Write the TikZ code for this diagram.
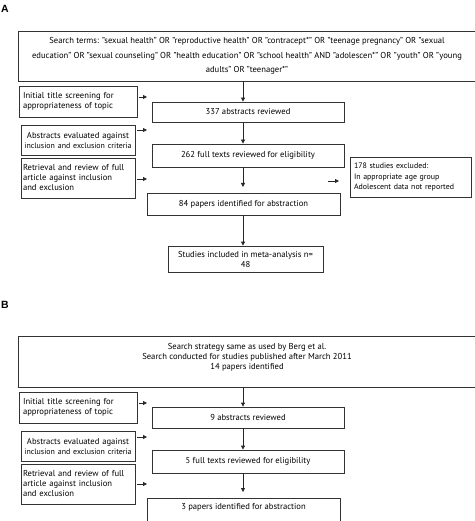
\documentclass[tikz,border=0pt]{standalone}
\usepackage{fontspec}
\setmainfont{PT Sans}
\newfontfamily\labfont{Liberation Sans}
\usetikzlibrary{arrows.meta}
\newcommand\bx[7]{\node[#6, minimum width={(#4-#2)*1pt}, minimum height={(#5-#3)*1pt}] (#1) at ({(#2+#4)/2},{(#3+#5)/2}) {#7};}
\newcommand\sm{\fontsize{7.9}{10}\selectfont}
\begin{document}
\begin{tikzpicture}[x=1pt,y=-1pt,
  box/.style={draw=black!80, line width=0.8pt, inner sep=0pt, align=center, text=black, font=\fontsize{8.6}{10}\selectfont},
  bigbox/.style={box, font=\fontsize{8.6}{14.5}\selectfont},
  lbox/.style={box, align=left, text width=110pt},
  cbox/.style={box, align=center, text width=112pt},
  exbox/.style={box, align=left, text width=113pt, font=\fontsize{7.9}{10.5}\selectfont},
  arr/.style={-{Triangle[length=4pt,width=4pt]}, line width=0.8pt, black!85},
  panlab/.style={font=\labfont\bfseries\fontsize{10.5}{12}\selectfont, inner sep=0pt}]
\useasboundingbox (0,0) rectangle (474,521);
\coordinate (ax) at (243,0);
% Panel A
\node[panlab] (labA) at (5,8.5) {A};
\bx{topA}{18}{31}{476}{81}{bigbox}{Search terms: "sexual health" OR "reproductive health" OR "contracept*" OR "teenage pregnancy" OR "sexual\\ education" OR "sexual counseling" OR "health education" OR "school health" AND "adolescen*" OR "youth" OR "young\\ adults" OR "teenager*"}
\bx{l1A}{19}{86}{137}{117}{lbox}{Initial title screening for\\appropriateness of topic}
\bx{b337}{152}{102}{344}{122}{box}{337 abstracts reviewed}
\bx{l2A}{21}{125}{135}{155}{cbox}{Abstracts evaluated against\\{\sm inclusion and exclusion criteria}}
\bx{b262}{152}{144}{344}{167}{box}{262 full texts reviewed for eligibility}
\bx{l3A}{21}{158}{135}{198}{lbox}{Retrieval and review of full\\article against inclusion\\and exclusion}
\bx{exA}{350}{157}{471}{197}{exbox}{178 studies excluded:\\In appropriate age group\\Adolescent data not reported}
\bx{b84}{147}{193}{340}{215}{box}{84 papers identified for abstraction}
\bx{stud}{168}{246}{323}{272}{box}{Studies included in meta-analysis n=\\48}
\coordinate (e1A) at (147,97);
\coordinate (e2A) at (147,130);
\coordinate (e3A) at (147,179);
\coordinate (eexS) at (328,181);
\coordinate (eexE) at (339,181);
\coordinate (e84) at (243,187);
\draw[arr] (topA.south -| ax) -- (b337.north -| ax);
\draw[arr] (b337.south -| ax) -- (b262.north -| ax);
\draw[arr] (b262.south -| ax) -- (e84);
\draw[arr] (b84.south -| ax) -- (stud.north -| ax);
\draw[arr, shorten <=1.5pt] (l1A.east |- e1A) -- (e1A);
\draw[arr, shorten <=1.5pt] (l2A.east |- e2A) -- (e2A);
\draw[arr, shorten <=1.5pt] (l3A.east |- e3A) -- (e3A);
\draw[arr] (eexS) -- (eexE);
% Panel B
\node[panlab] (labB) at (5,305) {B};
\bx{topB}{18}{336}{476}{387}{box}{Search strategy same as used by Berg et al.\\Search conducted for studies published after March 2011\\14 papers identified\\[0pt]}
\bx{l1B}{19}{392}{137}{423}{lbox}{Initial title screening for\\appropriateness of topic}
\bx{b9}{152}{407}{344}{428}{box}{9 abstracts reviewed}
\bx{l2B}{21}{431}{135}{461}{cbox}{Abstracts evaluated against\\{\sm inclusion and exclusion criteria}}
\bx{b5}{152}{450}{344}{473}{box}{5 full texts reviewed for eligibility}
\bx{l3B}{21}{464}{135}{504}{lbox}{Retrieval and review of full\\article against inclusion\\and exclusion}
\bx{b3}{147}{498}{340}{540}{box, text depth=26pt}{3 papers identified for abstraction}
\coordinate (e1B) at (147,403);
\coordinate (e2B) at (147,437);
\coordinate (e3B) at (147,484);
\coordinate (e3p) at (243,492);
\draw[arr] (topB.south -| ax) -- (b9.north -| ax);
\draw[arr] (b9.south -| ax) -- (b5.north -| ax);
\draw[arr] (b5.south -| ax) -- (e3p);
\draw[arr, shorten <=1.5pt] (l1B.east |- e1B) -- (e1B);
\draw[arr, shorten <=1.5pt] (l2B.east |- e2B) -- (e2B);
\draw[arr, shorten <=1.5pt] (l3B.east |- e3B) -- (e3B);
\end{tikzpicture}
\end{document}
